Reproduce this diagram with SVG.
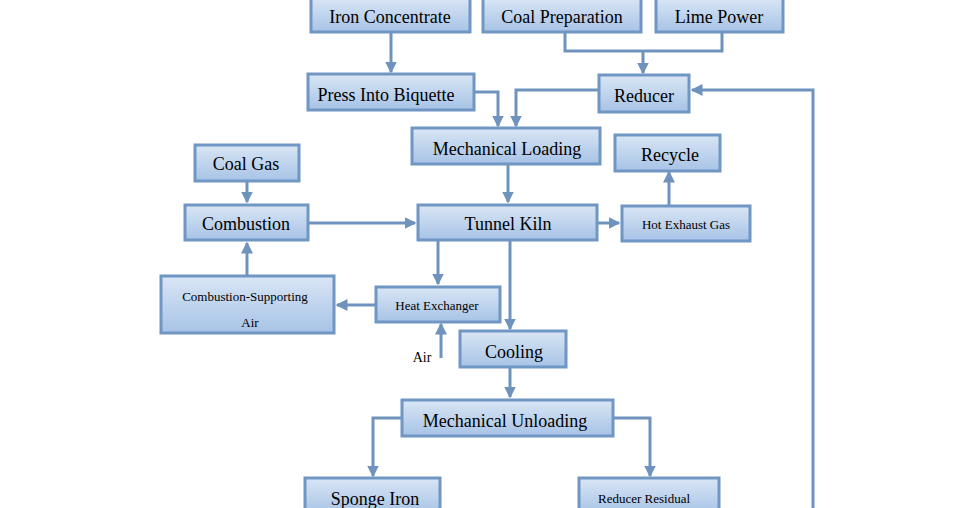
<svg xmlns="http://www.w3.org/2000/svg" width="968" height="508" viewBox="0 0 968 508">
<style>
.b{fill:url(#g);stroke:#7096c4;stroke-width:3}
.t{font-family:"Liberation Serif",serif;fill:#000;text-anchor:middle}
.c path{fill:none;stroke:#6f93bd;stroke-width:3;marker-end:url(#a)}
.c path.n{marker-end:none}
</style>
<defs>
<linearGradient id="g" x1="0" y1="0" x2="0" y2="1"><stop offset="0" stop-color="#d9e6f5"/><stop offset="1" stop-color="#a7c3e6"/></linearGradient>
<marker id="a" markerWidth="4" markerHeight="4" refX="3.5" refY="2" orient="auto"><path d="M0,0L4,2L0,4z" fill="#6f93bd"/></marker>
</defs>
<rect width="968" height="508" fill="#fff"/>
<g class="c">
<path d="M391,32V72"/>
<path class="n" d="M565,32V51H722V32"/>
<path d="M643,51V73"/>
<path d="M474,92H498V126"/>
<path d="M598,90H516V126"/>
<path d="M508,164V202"/>
<path d="M247,181V202"/>
<path d="M308,223H415"/>
<path d="M597,223H619"/>
<path d="M669,206V172"/>
<path d="M438,240V284"/>
<path d="M510,240V329"/>
<path d="M376,305H337"/>
<path d="M247,276V243"/>
<path d="M441,358V324"/>
<path d="M510,367V397"/>
<path d="M402,418H373V476"/>
<path d="M613,418H650V476"/>
<path d="M813,508V90H692"/>
</g>
<g id="iron"><rect class="b" x="311" y="-2" width="159" height="34"/><text class="t" x="390" y="23" font-size="18">Iron Concentrate</text></g>
<g id="coalprep"><rect class="b" x="483" y="-2" width="158" height="34"/><text class="t" x="562" y="23" font-size="18">Coal Preparation</text></g>
<g id="lime"><rect class="b" x="656" y="-2" width="127" height="34"/><text class="t" x="719" y="23" font-size="18">Lime Power</text></g>
<g id="press"><rect class="b" x="308" y="74" width="166" height="36"/><text class="t" x="386" y="101" font-size="18">Press Into Biquette</text></g>
<g id="reducer"><rect class="b" x="599" y="75" width="90" height="37"/><text class="t" x="644" y="102" font-size="18">Reducer</text></g>
<g id="loading"><rect class="b" x="412" y="128" width="188" height="36"/><text class="t" x="507" y="155" font-size="18">Mechanical Loading</text></g>
<g id="recycle"><rect class="b" x="615" y="135" width="105" height="36"/><text class="t" x="670" y="161" font-size="18">Recycle</text></g>
<g id="coalgas"><rect class="b" x="195" y="145" width="104" height="36"/><text class="t" x="246" y="170" font-size="18">Coal Gas</text></g>
<g id="combustion"><rect class="b" x="185" y="205" width="123" height="35"/><text class="t" x="246" y="230" font-size="18">Combustion</text></g>
<g id="kiln"><rect class="b" x="418" y="205" width="179" height="35"/><text class="t" x="508" y="230" font-size="18">Tunnel Kiln</text></g>
<g id="exhaust"><rect class="b" x="622" y="206" width="128" height="35"/><text class="t" x="686" y="229" font-size="13">Hot Exhaust Gas</text></g>
<g id="csair"><rect class="b" x="161" y="276" width="173" height="57"/><text class="t" x="245" y="301" font-size="13">Combustion-Supporting</text><text class="t" x="250" y="327" font-size="13">Air</text></g>
<g id="hx"><rect class="b" x="376" y="287" width="124" height="35"/><text class="t" x="437" y="310" font-size="13">Heat Exchanger</text></g>
<text class="t" x="422" y="362" font-size="14">Air</text>
<g id="cooling"><rect class="b" x="460" y="331" width="106" height="36"/><text class="t" x="514" y="358" font-size="18">Cooling</text></g>
<g id="unloading"><rect class="b" x="402" y="400" width="211" height="36"/><text class="t" x="505" y="427" font-size="18">Mechanical Unloading</text></g>
<g id="sponge"><rect class="b" x="305" y="478" width="135" height="36"/><text class="t" x="375" y="505" font-size="18">Sponge Iron</text></g>
<g id="residual"><rect class="b" x="579" y="478" width="140" height="36"/><text class="t" x="644" y="503" font-size="13">Reducer Residual</text></g>
</svg>
